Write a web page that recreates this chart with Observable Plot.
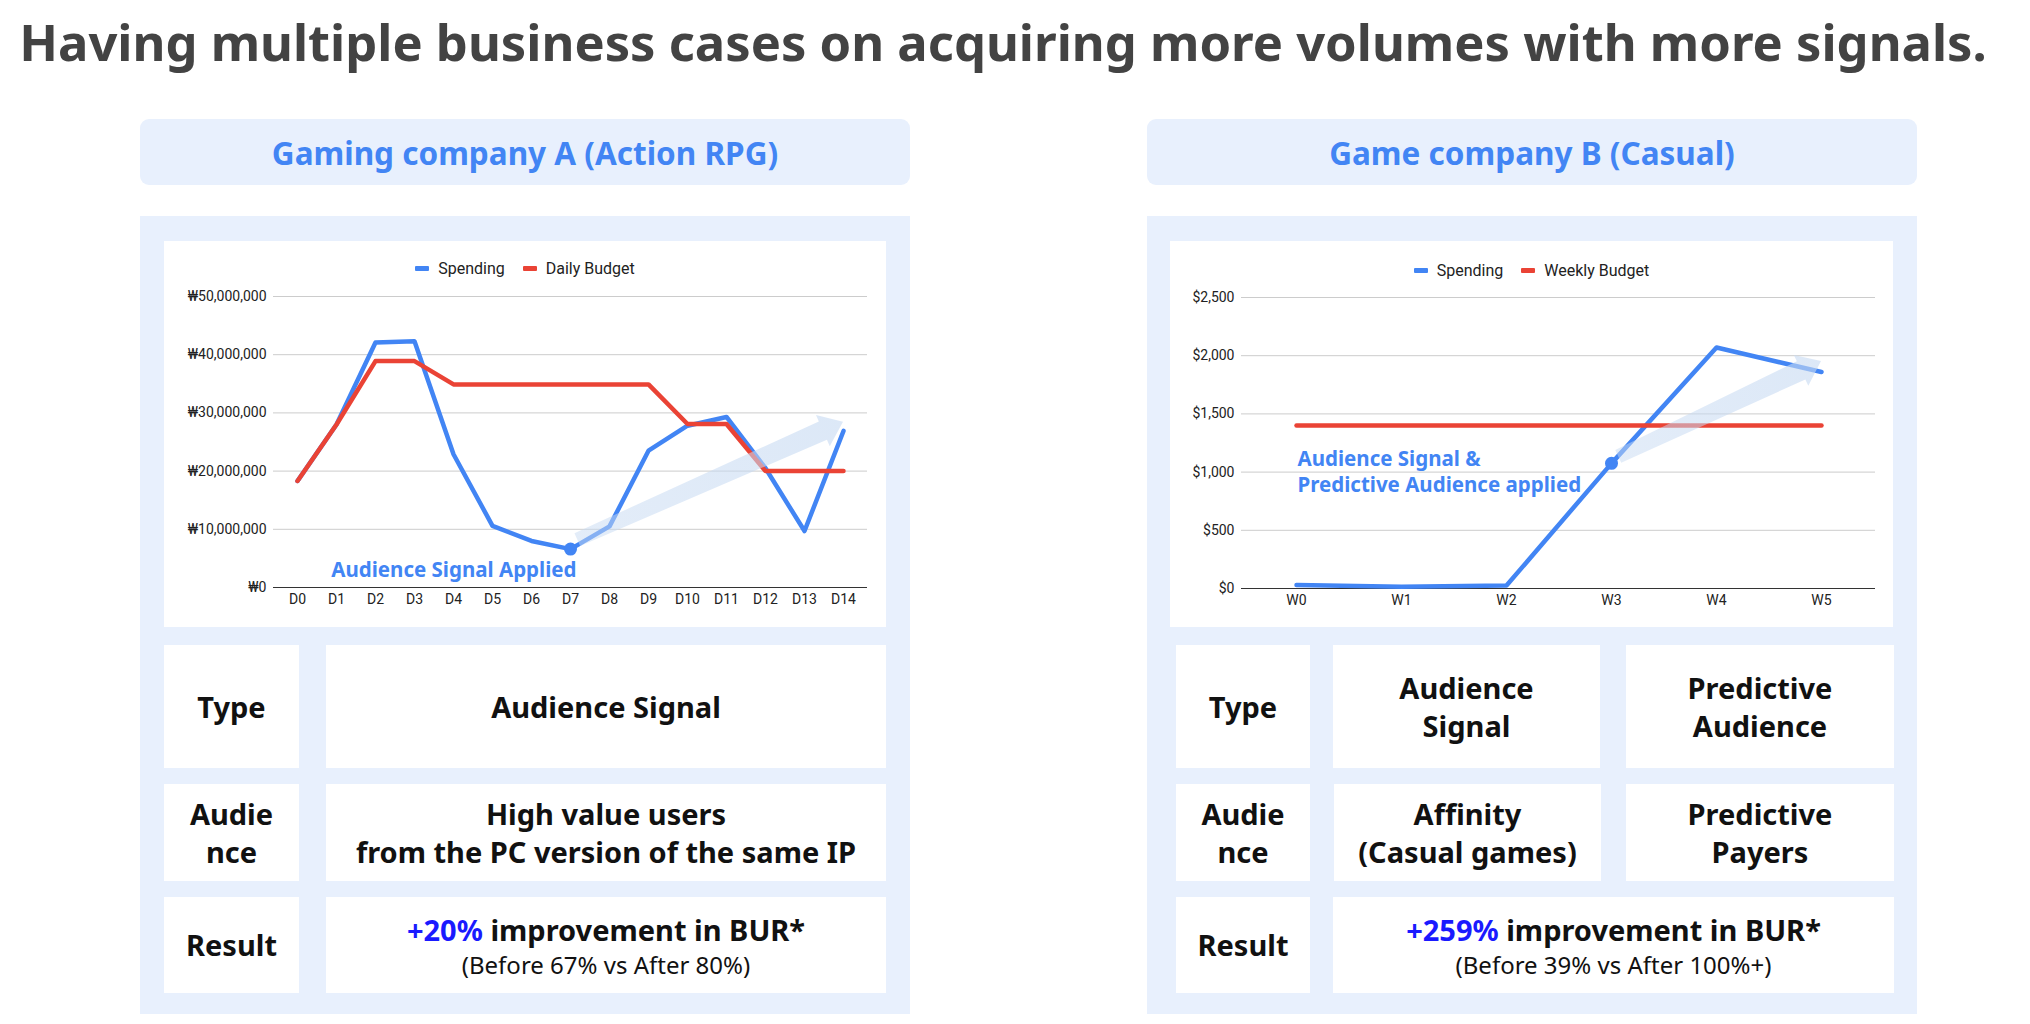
<!DOCTYPE html>
<html>
<head>
<meta charset="utf-8">
<script src="https://cdn.jsdelivr.net/npm/d3@7"></script>
<script src="https://cdn.jsdelivr.net/npm/@observablehq/plot@0.6"></script>
<style>
  html, body { margin: 0; padding: 0; background: #fff; }
  body { width: 2030px; height: 1024px; position: relative; overflow: hidden; font-family: "Noto Sans", sans-serif; }
  .abs { position: absolute; box-sizing: border-box; }
  .title { text-align: center; font-weight: 700; font-size: 50.7px; line-height: 49px; color: #434343; white-space: nowrap; }
  .hdr { background: #e8f0fd; border-radius: 9px; display: flex; align-items: center; justify-content: center; color: #4285f4; font-weight: 700; font-size: 31.5px; }
  .panel { background: #e8f0fd; }
  .card { background: #fff; }
  .cell { background: #fff; display: flex; flex-direction: column; align-items: center; justify-content: center; text-align: center; font-weight: 700; font-size: 29px; line-height: 38px; color: #111; white-space: pre-line; }
  .sub { font-weight: 400; font-size: 24px; line-height: 31px; }
  .hi { color: #1a1aff; }
  .legend { display: flex; justify-content: center; align-items: center; font-family: Roboto, sans-serif; font-size: 16px; color: #222; height: 22px; }
  .sw { display: inline-block; width: 14px; height: 5px; border-radius: 1px; margin-right: 9px; }
  .item { display: flex; align-items: center; margin: 0 9px; }
</style>
</head>
<body>
<script>
// ---------------- data ----------------
const pageTitle = "Having multiple business cases on acquiring more volumes with more signals.";
const caseTitles = ["Gaming company A (Action RPG)", "Game company B (Casual)"];

const daysA = ["D0","D1","D2","D3","D4","D5","D6","D7","D8","D9","D10","D11","D12","D13","D14"];
const spendA = [18.3e6, 28.0e6, 42.1e6, 42.3e6, 22.9e6, 10.6e6, 8.0e6, 6.6e6, 10.5e6, 23.5e6, 27.8e6, 29.3e6, 20.5e6, 9.7e6, 26.9e6];
const budgetA = [18.3e6, 28.0e6, 38.9e6, 38.9e6, 34.9e6, 34.9e6, 34.9e6, 34.9e6, 34.9e6, 34.9e6, 28.1e6, 28.1e6, 20.0e6, 20.0e6, 20.0e6];
const yTicksA = [0, 10e6, 20e6, 30e6, 40e6, 50e6];
const seriesA = ["Spending", "Daily Budget"];
const markerA = ["D7"];
const noteA = ["Audience Signal Applied"];
const noteAt_A = [{x: "D7", y: 3.3e6}];
const trendA = [{x1: "D7", y1: 7.6e6, x2: "D14", y2: 28.4e6}];

const weeksB = ["W0","W1","W2","W3","W4","W5"];
const spendB = [30, 15, 25, 1075, 2070, 1860];
const budgetB = [1400, 1400, 1400, 1400, 1400, 1400];
const yTicksB = [0, 500, 1000, 1500, 2000, 2500];
const seriesB = ["Spending", "Weekly Budget"];
const markerB = ["W3"];
const noteB = ["Audience Signal &\nPredictive Audience applied"];
const noteAt_B = [{x: "W0", y: 1014}];
const trendB = [{x1: "W3", y1: 1102, x2: "W5", y2: 1950}];

const rowLabels = ["Type", "Audie\nnce", "Result"];
const typeA = ["Audience Signal"];
const audienceA = ["High value users\nfrom the PC version of the same IP"];
const resultA = ["+20%", " improvement in BUR*", "(Before 67% vs After 80%)"];
const typeB = ["Audience\nSignal", "Predictive\nAudience"];
const audienceB = ["Affinity\n(Casual games)", "Predictive\nPayers"];
const resultB = ["+259%", " improvement in BUR*", "(Before 39% vs After 100%+)"];

const colors = ["#4285f4", "#ea4335"];

// ---------------- helpers ----------------
function box(cls, x, y, w, h, html) {
  const d = document.createElement("div");
  d.className = "abs " + cls;
  Object.assign(d.style, {left: x + "px", top: y + "px", width: w + "px", height: h + "px"});
  if (html != null) d.innerHTML = html;
  document.body.appendChild(d);
  return d;
}
function esc(s) { return s.replace(/&/g, "&amp;").replace(/</g, "&lt;"); }
function resultHtml(r) {
  return `<div><span class="hi">${esc(r[0])}</span>${esc(r[1])}</div><div class="sub">${esc(r[2])}</div>`;
}

let gradCount = 0;
function trendArrow(spec) {
  return (index, scales) => {
    const g = d3.create("svg:g");
    for (const a of spec) {
      const x1 = scales.x(a.x1), y1 = scales.y(a.y1), x2 = scales.x(a.x2), y2 = scales.y(a.y2);
      const dx = x2 - x1, dy = y2 - y1, L = Math.hypot(dx, dy);
      const ux = dx / L, uy = dy / L, nx = -uy, ny = ux;
      const inset = 8, headLen = 22, w0 = 14, w1 = 20, hw = 34;
      const sx = x1 + ux * inset, sy = y1 + uy * inset;
      const hx = x2 - ux * headLen, hy = y2 - uy * headLen;
      const pts = [
        [sx + nx * w0 / 2, sy + ny * w0 / 2],
        [hx + nx * w1 / 2, hy + ny * w1 / 2],
        [hx + nx * hw / 2, hy + ny * hw / 2],
        [x2, y2],
        [hx - nx * hw / 2, hy - ny * hw / 2],
        [hx - nx * w1 / 2, hy - ny * w1 / 2],
        [sx - nx * w0 / 2, sy - ny * w0 / 2]
      ];
      const id = "trendgrad" + (gradCount++);
      const lg = g.append("defs").append("linearGradient")
        .attr("id", id).attr("gradientUnits", "userSpaceOnUse")
        .attr("x1", sx).attr("y1", sy).attr("x2", x2).attr("y2", y2);
      lg.append("stop").attr("offset", 0).attr("stop-color", "rgb(199,218,242)").attr("stop-opacity", 0.5);
      lg.append("stop").attr("offset", 1).attr("stop-color", "rgb(199,218,242)").attr("stop-opacity", 0.62);
      g.append("polygon").attr("points", pts.map(p => p.join(",")).join(" ")).attr("fill", `url(#${id})`);
    }
    return g.node();
  };
}

function legend(x, y, w, names) {
  const d = box("legend", x, y, w, 22);
  names.forEach((n, i) => {
    const it = document.createElement("span");
    it.className = "item";
    it.innerHTML = `<span class="sw" style="background:${colors[i]}"></span><span>${esc(n)}</span>`;
    d.appendChild(it);
  });
}

function chart({cats, spend, budget, ticks, fmt, marker, note, noteAt, noteAnchor, trend, width, height, ml, mr, mt, mb}) {
  const rows = cats.map((c, i) => ({c, spend: spend[i], budget: budget[i]}));
  return Plot.plot({
    width, height,
    marginLeft: ml, marginRight: mr, marginTop: mt, marginBottom: mb,
    style: {background: "transparent", fontFamily: "Roboto, sans-serif", fontSize: "14px", color: "#222"},
    x: {type: "point", domain: cats, padding: 0.5, tickSize: 0, tickPadding: 7, label: null},
    y: {domain: [ticks[0], ticks[ticks.length - 1]], ticks, tickFormat: fmt, tickSize: 0, tickPadding: 7, label: null},
    marks: [
      Plot.ruleY(ticks.slice(1), {stroke: "#cccccc", strokeWidth: 1}),
      Plot.ruleY([0], {stroke: "#333333", strokeWidth: 1}),
      Plot.line(rows, {x: "c", y: "spend", stroke: colors[0], strokeWidth: 4.5}),
      Plot.line(rows, {x: "c", y: "budget", stroke: colors[1], strokeWidth: 4.5}),
      Plot.dot(rows.filter(d => marker.includes(d.c)), {x: "c", y: "spend", r: 6.5, fill: colors[0], stroke: null}),
      trendArrow(trend),
      Plot.text(noteAt.map((p, i) => ({...p, t: note[i]})), {
        x: "x", y: "y", text: "t", textAnchor: noteAnchor, dx: noteAnchor === "end" ? 6 : 1,
        fill: colors[0], fontSize: 20.5, fontWeight: 700, fontFamily: "Noto Sans, sans-serif", lineHeight: 1.27
      })
    ]
  });
}

// ---------------- layout ----------------
box("title", -12, 17, 2030, 49, esc(pageTitle));

const panels = [{x: 140}, {x: 1147}];
panels.forEach((p, i) => {
  box("hdr", p.x, 119, 770, 66, esc(caseTitles[i]));
  box("panel", p.x, 216, 770, 798);
});

// Case A chart card
const cardA = box("card", 164, 241, 722, 386);
const svgA = chart({
  cats: daysA, spend: spendA, budget: budgetA, ticks: yTicksA,
  fmt: d => "₩" + d3.format(",")(d), marker: markerA, note: noteA, noteAt: noteAt_A, noteAnchor: "end",
  trend: trendA, width: 722, height: 386, ml: 109, mr: 19, mt: 55, mb: 40
});
cardA.appendChild(svgA);
legend(164, 257, 722, seriesA);

// Case B chart card
const cardB = box("card", 1170, 241, 723, 386);
const svgB = chart({
  cats: weeksB, spend: spendB, budget: budgetB, ticks: yTicksB,
  fmt: d => "$" + d3.format(",")(d), marker: markerB, note: noteB, noteAt: noteAt_B, noteAnchor: "start",
  trend: trendB, width: 723, height: 386, ml: 71, mr: 18, mt: 56, mb: 39
});
cardB.appendChild(svgB);
legend(1170, 259, 723, seriesB);

[svgA, svgB].forEach(s => { s.style.position = "absolute"; s.style.left = "0"; s.style.top = "0"; });

// Table A
const rowsY = [[645, 123], [784, 97], [897, 96]];
rowLabels.forEach((l, r) => box("cell", 164, rowsY[r][0], 135, rowsY[r][1], esc(l)));
box("cell", 326, rowsY[0][0], 560, rowsY[0][1], esc(typeA[0]));
box("cell", 326, rowsY[1][0], 560, rowsY[1][1], esc(audienceA[0]));
box("cell", 326, rowsY[2][0], 560, rowsY[2][1], resultHtml(resultA));

// Table B
rowLabels.forEach((l, r) => box("cell", 1176, rowsY[r][0], 134, rowsY[r][1], esc(l)));
box("cell", 1333, rowsY[0][0], 267, rowsY[0][1], esc(typeB[0]));
box("cell", 1626, rowsY[0][0], 268, rowsY[0][1], esc(typeB[1]));
box("cell", 1334, rowsY[1][0], 267, rowsY[1][1], esc(audienceB[0]));
box("cell", 1626, rowsY[1][0], 268, rowsY[1][1], esc(audienceB[1]));
box("cell", 1333, rowsY[2][0], 561, rowsY[2][1], resultHtml(resultB));
</script>
</body>
</html>
